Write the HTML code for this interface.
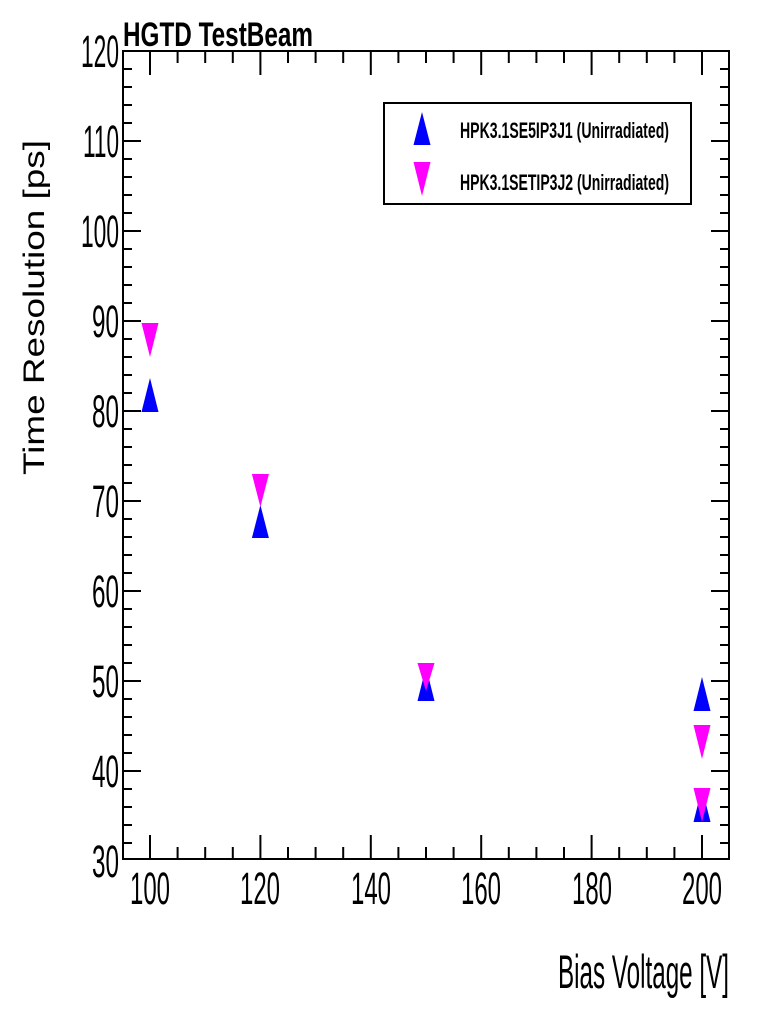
<!DOCTYPE html>
<html><head><meta charset="utf-8"><style>
html,body{margin:0;padding:0;background:#fff;}
svg{display:block;}
text{font-family:"Liberation Sans",sans-serif;fill:#000;}
</style></head><body>
<svg width="768" height="1024" viewBox="0 0 768 1024" xmlns="http://www.w3.org/2000/svg">
<rect x="0" y="0" width="768" height="1024" fill="#fff"/>
<text x="123" y="46" font-size="34" font-weight="bold" textLength="190" lengthAdjust="spacingAndGlyphs">HGTD TestBeam</text>
<rect x="123" y="51" width="606" height="808" fill="none" stroke="#000" stroke-width="2"/>
<g stroke="#000" stroke-width="2">
<path d="M150,859v-24M177.6,859v-12M205.2,859v-12M232.8,859v-12M260.4,859v-24M288,859v-12M315.6,859v-12M343.2,859v-12M370.8,859v-24M398.4,859v-12M426,859v-12M453.6,859v-12M481.2,859v-24M508.8,859v-12M536.4,859v-12M564,859v-12M591.6,859v-24M619.2,859v-12M646.8,859v-12M674.4,859v-12M702,859v-24"/>
<path d="M150,51v24M177.6,51v12M205.2,51v12M232.8,51v12M260.4,51v24M288,51v12M315.6,51v12M343.2,51v12M370.8,51v24M398.4,51v12M426,51v12M453.6,51v12M481.2,51v24M508.8,51v12M536.4,51v12M564,51v12M591.6,51v24M619.2,51v12M646.8,51v12M674.4,51v12M702,51v24"/>
</g>
<g stroke="#000" stroke-width="2">
<path d="M123,51h18M123,69h9M123,87h9M123,105h9M123,123h9M123,141h18M123,159h9M123,177h9M123,195h9M123,213h9M123,231h18M123,249h9M123,267h9M123,285h9M123,303h9M123,321h18M123,339h9M123,357h9M123,375h9M123,393h9M123,411h18M123,429h9M123,447h9M123,465h9M123,483h9M123,501h18M123,519h9M123,537h9M123,555h9M123,573h9M123,591h18M123,609h9M123,627h9M123,645h9M123,663h9M123,681h18M123,699h9M123,717h9M123,735h9M123,753h9M123,771h18M123,789h9M123,807h9M123,825h9M123,843h9"/>
<path d="M729,51h-18M729,69h-9M729,87h-9M729,105h-9M729,123h-9M729,141h-18M729,159h-9M729,177h-9M729,195h-9M729,213h-9M729,231h-18M729,249h-9M729,267h-9M729,285h-9M729,303h-9M729,321h-18M729,339h-9M729,357h-9M729,375h-9M729,393h-9M729,411h-18M729,429h-9M729,447h-9M729,465h-9M729,483h-9M729,501h-18M729,519h-9M729,537h-9M729,555h-9M729,573h-9M729,591h-18M729,609h-9M729,627h-9M729,645h-9M729,663h-9M729,681h-18M729,699h-9M729,717h-9M729,735h-9M729,753h-9M729,771h-18M729,789h-9M729,807h-9M729,825h-9M729,843h-9"/>
</g>
<g font-size="45" text-anchor="end">
<text x="119" y="67" textLength="38" lengthAdjust="spacingAndGlyphs">120</text>
<text x="119" y="157" textLength="36" lengthAdjust="spacingAndGlyphs">110</text>
<text x="119" y="247" textLength="38" lengthAdjust="spacingAndGlyphs">100</text>
<text x="119" y="337" textLength="27" lengthAdjust="spacingAndGlyphs">90</text>
<text x="119" y="427" textLength="27" lengthAdjust="spacingAndGlyphs">80</text>
<text x="119" y="517" textLength="27" lengthAdjust="spacingAndGlyphs">70</text>
<text x="119" y="607" textLength="27" lengthAdjust="spacingAndGlyphs">60</text>
<text x="119" y="697" textLength="27" lengthAdjust="spacingAndGlyphs">50</text>
<text x="119" y="787" textLength="27" lengthAdjust="spacingAndGlyphs">40</text>
<text x="119" y="877" textLength="27" lengthAdjust="spacingAndGlyphs">30</text>
</g>
<g font-size="45" text-anchor="middle">
<text x="150" y="904" textLength="40" lengthAdjust="spacingAndGlyphs">100</text>
<text x="260" y="904" textLength="40" lengthAdjust="spacingAndGlyphs">120</text>
<text x="371" y="904" textLength="40" lengthAdjust="spacingAndGlyphs">140</text>
<text x="481" y="904" textLength="40" lengthAdjust="spacingAndGlyphs">160</text>
<text x="592" y="904" textLength="40" lengthAdjust="spacingAndGlyphs">180</text>
<text x="702" y="904" textLength="40" lengthAdjust="spacingAndGlyphs">200</text>
</g>
<text x="729" y="988" font-size="47" text-anchor="end" textLength="171" lengthAdjust="spacingAndGlyphs">Bias Voltage [V]</text>
<text transform="translate(44,475) rotate(-90)" font-size="30" textLength="335" lengthAdjust="spacingAndGlyphs">Time Resolution [ps]</text>
<rect x="384" y="103" width="307" height="101" fill="#fff" stroke="#000" stroke-width="2"/>
<polygon points="422,112 413.5,145 430.5,145" fill="#0000ff"/>
<polygon points="413.5,162 430.5,162 422,196" fill="#ff00ff"/>
<text x="460" y="138" font-size="22" font-weight="bold" textLength="209" lengthAdjust="spacingAndGlyphs">HPK3.1SE5IP3J1 (Unirradiated)</text>
<text x="460" y="190" font-size="22" font-weight="bold" textLength="209" lengthAdjust="spacingAndGlyphs">HPK3.1SETIP3J2 (Unirradiated)</text>
<g fill="#0000ff">
<polygon points="150,378 141.5,412 158.5,412"/>
<polygon points="260.4,505 251.9,538 268.9,538"/>
<polygon points="426,667 417.5,701 434.5,701"/>
<polygon points="702,677 693.5,711 710.5,711"/>
<polygon points="702,788 693.5,822 710.5,822"/>
</g>
<g fill="#ff00ff">
<polygon points="141.5,323 158.5,323 150,357"/>
<polygon points="251.9,474 268.9,474 260.4,507"/>
<polygon points="417.5,663 434.5,663 426,691"/>
<polygon points="693.5,725 710.5,725 702,759"/>
<polygon points="693.5,788 710.5,788 702,822"/>
</g>
</svg>
</body></html>
